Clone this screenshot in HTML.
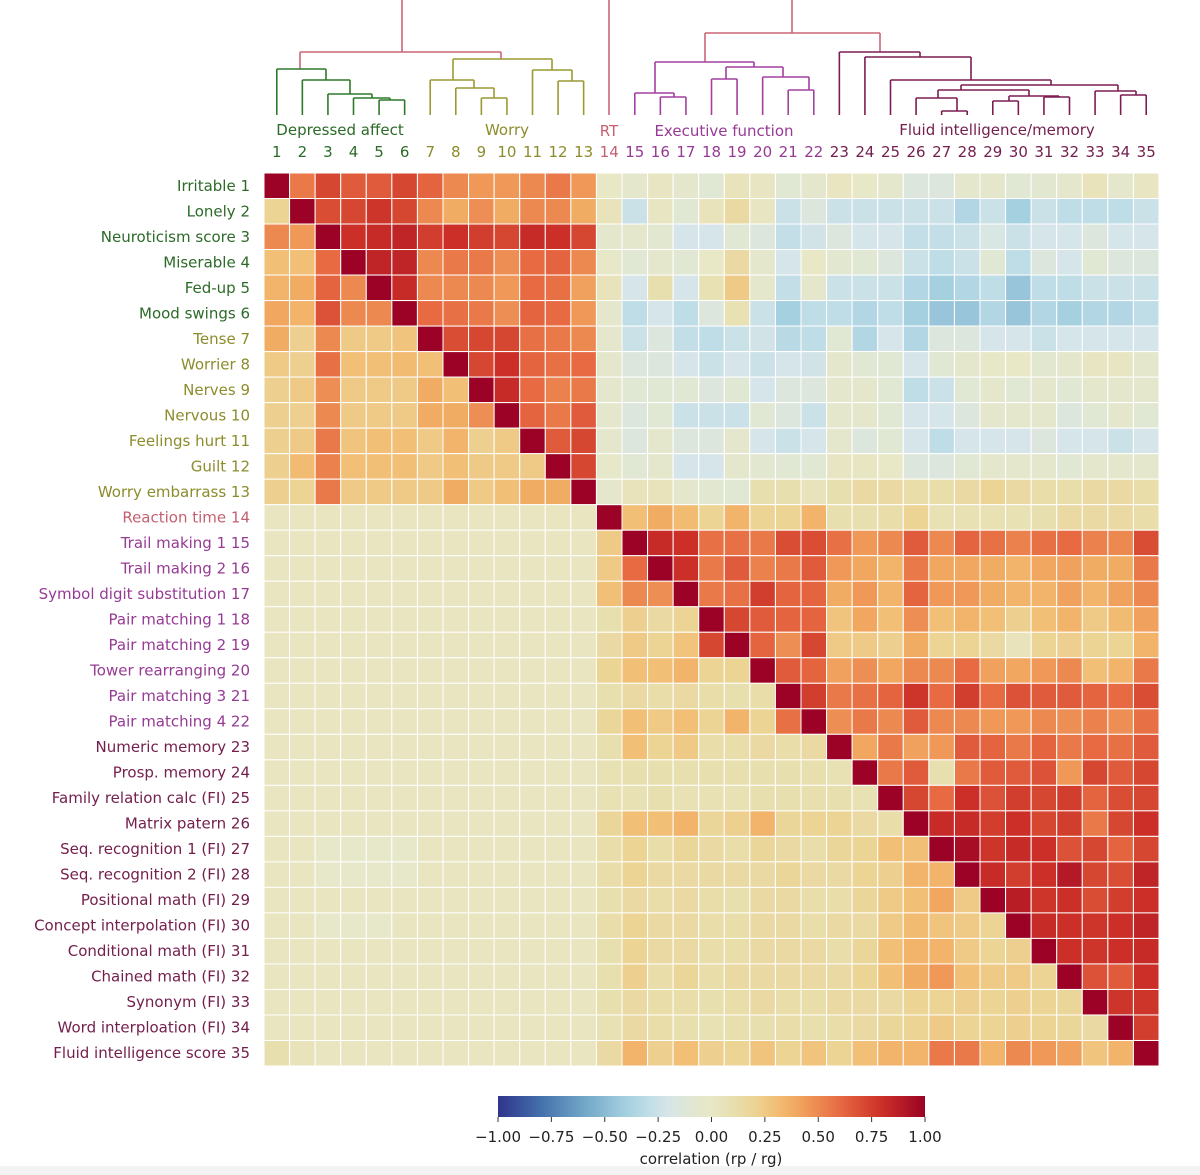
<!DOCTYPE html>
<html><head><meta charset="utf-8"><style>
html,body{margin:0;padding:0;background:#fff;}
svg{display:block;font-family:"DejaVu Sans","Liberation Sans",sans-serif;}
</style></head><body>
<svg id="chart" width="1200" height="1175" viewBox="0 0 1200 1175">
<rect x="0" y="1166" width="1200" height="9" fill="#f3f3f3"/>
<g id="dendro" fill="none" stroke-width="1.6"></g>
<g id="groups"></g>
<g id="collabels"></g>
<g id="rowlabels"></g>
<g id="cells"></g>
<g id="cbar"></g>
</svg>
<script>
const rowNames = ["Irritable","Lonely","Neuroticism score","Miserable","Fed-up","Mood swings","Tense","Worrier","Nerves","Nervous","Feelings hurt","Guilt","Worry embarrass","Reaction time","Trail making 1","Trail making 2","Symbol digit substitution","Pair matching 1","Pair matching 2","Tower rearranging","Pair matching 3","Pair matching 4","Numeric memory","Prosp. memory","Family relation calc (FI)","Matrix patern","Seq. recognition 1 (FI)","Seq. recognition 2 (FI)","Positional math (FI)","Concept interpolation (FI)","Conditional math (FI)","Chained math (FI)","Synonym (FI)","Word interploation (FI)","Fluid intelligence score"];
const groupOf = [0,0,0,0,0,0,1,1,1,1,1,1,1,2,3,3,3,3,3,3,3,3,4,4,4,4,4,4,4,4,4,4,4,4,4];
const groupNames = ["Depressed affect","Worry","RT","Executive function","Fluid intelligence/memory"];
const colorbarTicks = [-1,-0.75,-0.5,-0.25,0,0.25,0.5,0.75,1];
const L = 0.03, B = -0.03;
const m1 = [1,0.55,0.72,0.65,0.65,0.72,0.62,0.5,0.45,0.45,0.5,0.55,0.45,0.0,-0.05,0.02,-0.05,-0.1,0.05,0.02,-0.1,-0.05,0.03,-0.02,-0.05,-0.15,-0.15,-0.05,-0.05,-0.1,-0.08,-0.05,0.05,-0.05,0.02];
const m2 = [0.2,1,0.7,0.72,0.78,0.72,0.5,0.38,0.48,0.38,0.5,0.5,0.38,0.05,-0.25,0.02,-0.1,0.05,0.15,0.02,-0.25,-0.15,-0.25,-0.25,-0.25,-0.25,-0.25,-0.35,-0.25,-0.4,-0.25,-0.3,-0.3,-0.3,-0.25];
const m3 = [0.5,0.45,1,0.8,0.82,0.85,0.75,0.8,0.75,0.72,0.82,0.8,0.72,-0.05,-0.05,-0.08,-0.2,-0.2,-0.1,-0.15,-0.28,-0.22,-0.15,-0.2,-0.2,-0.28,-0.28,-0.25,-0.18,-0.25,-0.2,-0.2,-0.15,-0.2,-0.2];
const m4 = [0.3,0.3,0.6,1,0.85,0.85,0.5,0.55,0.55,0.48,0.6,0.62,0.5,-0.02,-0.1,-0.05,-0.1,0.0,0.15,-0.05,-0.2,0.0,-0.08,-0.1,-0.15,-0.25,-0.3,-0.25,-0.1,-0.3,-0.15,-0.2,-0.1,-0.15,-0.15];
const m5 = [0.35,0.38,0.62,0.5,1,0.82,0.5,0.5,0.5,0.45,0.6,0.58,0.42,0.05,-0.2,0.1,-0.2,0.08,0.25,-0.05,-0.28,-0.05,-0.25,-0.25,-0.25,-0.35,-0.4,-0.35,-0.3,-0.45,-0.3,-0.3,-0.25,-0.25,-0.25];
const m6 = [0.4,0.35,0.68,0.5,0.5,1,0.6,0.58,0.55,0.48,0.62,0.6,0.45,-0.05,-0.3,-0.2,-0.3,-0.15,0.08,-0.25,-0.4,-0.3,-0.3,-0.35,-0.3,-0.4,-0.45,-0.45,-0.35,-0.45,-0.35,-0.4,-0.35,-0.35,-0.3];
const m7 = [0.38,0.22,0.5,0.25,0.25,0.28,1,0.7,0.72,0.72,0.58,0.55,0.5,-0.05,-0.25,-0.15,-0.28,-0.3,-0.25,-0.22,-0.32,-0.3,-0.1,-0.35,-0.2,-0.35,-0.15,-0.15,-0.2,-0.2,-0.25,-0.2,-0.2,-0.2,-0.2];
const m8 = [0.25,0.22,0.58,0.3,0.3,0.32,0.3,1,0.72,0.8,0.62,0.58,0.6,-0.05,-0.15,-0.15,-0.2,-0.25,-0.2,-0.25,-0.2,-0.22,-0.05,-0.1,-0.1,-0.2,-0.1,-0.05,-0.02,0.0,-0.08,-0.05,0.02,0.02,-0.05];
const m9 = [0.22,0.25,0.48,0.25,0.25,0.25,0.38,0.3,1,0.82,0.6,0.52,0.55,-0.05,-0.1,-0.1,-0.1,-0.15,-0.1,-0.2,-0.15,-0.15,-0.05,-0.05,-0.1,-0.3,-0.25,-0.1,-0.05,-0.1,-0.05,-0.1,-0.05,-0.05,-0.05];
const m10 = [0.22,0.22,0.5,0.25,0.25,0.25,0.38,0.38,0.48,1,0.62,0.55,0.65,-0.05,-0.15,-0.1,-0.25,-0.25,-0.25,-0.1,-0.15,-0.25,-0.05,-0.05,-0.1,-0.2,-0.2,-0.15,-0.05,-0.05,-0.05,-0.15,-0.1,-0.05,-0.1];
const m11 = [0.22,0.25,0.55,0.28,0.3,0.3,0.25,0.35,0.22,0.25,1,0.65,0.72,-0.05,-0.15,-0.05,-0.15,-0.15,-0.05,-0.2,-0.25,-0.2,-0.05,-0.15,-0.1,-0.2,-0.3,-0.2,-0.2,-0.2,-0.15,-0.2,-0.2,-0.25,-0.2];
const m12 = [0.22,0.32,0.52,0.3,0.3,0.3,0.25,0.3,0.25,0.25,0.25,1,0.72,-0.03,-0.1,-0.05,-0.2,-0.2,-0.05,-0.08,-0.1,-0.1,0.02,0.02,0.0,-0.15,-0.15,-0.1,-0.05,-0.05,-0.05,-0.1,-0.05,-0.05,-0.05];
const m13 = [0.22,0.2,0.55,0.25,0.25,0.25,0.25,0.38,0.25,0.3,0.38,0.38,1,-0.05,0.05,0.05,-0.05,-0.08,-0.1,0.1,0.1,0.05,0.1,0.15,0.15,0.12,0.12,0.15,0.2,0.15,0.12,0.12,0.15,0.15,0.12];
const m14 = [L,L,L,L,L,L,L,L,L,L,L,L,L,1,0.3,0.38,0.32,0.2,0.35,0.2,0.2,0.35,0.1,0.1,0.12,0.2,0.08,0.08,0.08,0.08,0.1,0.15,0.15,0.15,0.12];
const m15 = [L,L,L,L,L,L,L,L,L,L,L,L,L,0.25,1,0.82,0.8,0.58,0.58,0.55,0.7,0.7,0.58,0.45,0.5,0.65,0.5,0.62,0.58,0.52,0.58,0.6,0.52,0.5,0.7];
const m16 = [L,L,L,L,L,L,L,L,L,L,L,L,L,0.25,0.6,1,0.8,0.55,0.65,0.52,0.55,0.65,0.45,0.4,0.35,0.55,0.4,0.4,0.38,0.35,0.4,0.42,0.38,0.38,0.55];
const m17 = [L,L,L,L,L,L,L,L,L,L,L,L,L,0.3,0.5,0.48,1,0.55,0.58,0.75,0.62,0.62,0.38,0.45,0.35,0.62,0.45,0.45,0.38,0.35,0.35,0.42,0.35,0.42,0.5];
const m18 = [L,L,L,L,L,L,L,L,L,L,L,L,L,0.1,0.22,0.15,0.2,1,0.72,0.65,0.62,0.62,0.28,0.4,0.3,0.48,0.3,0.35,0.3,0.22,0.3,0.35,0.25,0.32,0.42];
const m19 = [L,L,L,L,L,L,L,L,L,L,L,L,L,0.15,0.25,0.2,0.28,0.72,1,0.62,0.48,0.72,0.25,0.25,0.22,0.38,0.2,0.2,0.15,0.05,0.2,0.22,0.2,0.2,0.35];
const m20 = [L,L,L,L,L,L,L,L,L,L,L,L,L,0.2,0.3,0.3,0.35,0.2,0.2,1,0.65,0.62,0.42,0.48,0.4,0.5,0.5,0.6,0.42,0.4,0.45,0.5,0.3,0.35,0.55];
const m21 = [L,L,L,L,L,L,L,L,L,L,L,L,L,0.1,0.15,0.12,0.15,0.12,0.1,0.12,1,0.75,0.55,0.58,0.62,0.78,0.6,0.75,0.6,0.68,0.65,0.65,0.62,0.6,0.7];
const m22 = [L,L,L,L,L,L,L,L,L,L,L,L,L,0.18,0.3,0.25,0.3,0.2,0.35,0.2,0.58,1,0.48,0.55,0.5,0.65,0.5,0.5,0.45,0.45,0.5,0.48,0.52,0.48,0.58];
const m23 = [L,L,L,L,L,L,L,L,L,L,L,L,L,0.1,0.3,0.2,0.25,0.12,0.12,0.15,0.12,0.15,1,0.4,0.55,0.42,0.45,0.65,0.62,0.55,0.62,0.55,0.6,0.58,0.65];
const m24 = [L,L,L,L,L,L,L,L,L,L,L,L,L,0.08,0.1,0.1,0.1,0.1,0.1,0.1,0.1,0.1,0.08,1,0.55,0.65,0.1,0.55,0.65,0.65,0.68,0.45,0.72,0.65,0.72];
const m25 = [L,L,L,L,L,L,L,L,L,L,L,L,L,0.08,0.08,0.1,0.08,0.08,0.08,0.1,0.1,0.1,0.1,0.08,1,0.72,0.6,0.8,0.68,0.75,0.72,0.75,0.62,0.7,0.72];
const m26 = [L,L,L,L,L,L,L,L,L,L,L,L,L,0.18,0.3,0.3,0.35,0.18,0.22,0.35,0.18,0.2,0.2,0.15,0.12,1,0.82,0.82,0.75,0.8,0.72,0.75,0.55,0.72,0.8];
const m27 = [L,L,B,B,B,B,L,L,L,L,L,L,L,0.12,0.2,0.12,0.18,0.15,0.12,0.18,0.15,0.12,0.18,0.2,0.3,0.3,1,0.95,0.78,0.82,0.8,0.68,0.72,0.62,0.72];
const m28 = [L,L,B,B,B,B,L,L,L,L,L,L,L,0.12,0.2,0.15,0.15,0.15,0.15,0.15,0.18,0.15,0.15,0.2,0.22,0.35,0.35,1,0.82,0.75,0.8,0.9,0.72,0.7,0.85];
const m29 = [L,L,L,L,L,L,L,L,L,L,L,L,L,0.1,0.15,0.12,0.15,0.12,0.1,0.15,0.15,0.12,0.12,0.18,0.25,0.3,0.4,0.25,1,0.88,0.78,0.8,0.7,0.75,0.8];
const m30 = [L,L,B,B,B,L,L,L,L,L,L,L,L,0.12,0.2,0.15,0.15,0.12,0.12,0.15,0.15,0.12,0.15,0.15,0.25,0.32,0.28,0.25,0.2,1,0.82,0.8,0.78,0.8,0.85];
const m31 = [L,L,L,L,L,L,L,L,L,L,L,L,L,0.1,0.2,0.15,0.15,0.12,0.12,0.15,0.15,0.15,0.12,0.18,0.3,0.35,0.35,0.25,0.2,0.22,1,0.8,0.78,0.8,0.82];
const m32 = [L,L,L,L,L,L,L,L,L,L,L,L,L,0.1,0.22,0.12,0.18,0.12,0.15,0.15,0.15,0.15,0.15,0.2,0.3,0.38,0.45,0.3,0.25,0.25,0.2,1,0.68,0.65,0.8];
const m33 = [L,L,L,L,L,L,L,L,L,L,L,L,L,0.1,0.15,0.12,0.12,0.1,0.12,0.15,0.12,0.12,0.15,0.15,0.15,0.2,0.2,0.22,0.2,0.22,0.2,0.18,1,0.78,0.78];
const m34 = [L,L,L,L,L,L,L,L,L,L,L,L,L,0.08,0.15,0.12,0.1,0.08,0.1,0.1,0.12,0.1,0.12,0.15,0.18,0.2,0.25,0.2,0.2,0.22,0.2,0.18,0.15,1,0.75];
const m35 = [0.1,0.05,L,L,L,L,L,L,L,L,L,L,L,0.15,0.35,0.22,0.3,0.22,0.2,0.28,0.2,0.28,0.2,0.3,0.35,0.35,0.55,0.55,0.35,0.5,0.45,0.42,0.28,0.35,1];
const matrix = [m1,m2,m3,m4,m5,m6,m7,m8,m9,m10,m11,m12,m13,m14,m15,m16,m17,m18,m19,m20,m21,m22,m23,m24,m25,m26,m27,m28,m29,m30,m31,m32,m33,m34,m35];

const NS = "http://www.w3.org/2000/svg";
const X0 = 264, Y0 = 173, X1 = 1159, Y1 = 1066, N = 35;
const cw = (X1 - X0) / N, ch = (Y1 - Y0) / N;
const colX = i => X0 + i * cw;
const rowY = i => Y0 + i * ch;
const leafX = k => X0 + (k - 0.5) * cw;
const groupColors = ["#2f7a2a","#9a9a32","#cc6677","#a2409f","#7d1c52"];
const textColors = ["#2c6a28","#8c8c2c","#c65f70","#963a94","#74204e"];
const anchors = ["#313695","#4575b4","#74add1","#abd9e9","#e0f3f8","#ffffbf","#fee090","#fdae61","#f46d43","#d73027","#a50026"];
function hex(h){return [parseInt(h.substr(1,2),16),parseInt(h.substr(3,2),16),parseInt(h.substr(5,2),16)];}
function cmap(v){
  v = Math.max(-1,Math.min(1,v));
  let t = (v + 1) / 2 * 10;
  let i = Math.min(9, Math.floor(t)), f = t - i;
  let a = hex(anchors[i]), b = hex(anchors[i+1]);
  let c = a.map((x,k)=>x + (b[k]-x)*f);
  const lum = 0.3*c[0] + 0.59*c[1] + 0.11*c[2];
  const near = Math.max(0, 1 - Math.abs(v) / 0.3);
  const s = 0.4*near + 0.03;
  c = c.map(x => x*(1-s) + lum*s);
  const sc = 0.96 - 0.04*near;
  c = c.map(x => Math.round(Math.min(255, x*sc)));
  return "rgb(" + c.join(",") + ")";
}
function mk(tag, attrs, parent){const e=document.createElementNS(NS,tag);for(const k in attrs)e.setAttribute(k,attrs[k]);parent.appendChild(e);return e;}

const cells = document.getElementById("cells");
matrix.forEach((row, r) => row.forEach((v, c) => {
  const rect = mk("rect", {x: colX(c), y: rowY(r), width: cw, height: ch, fill: cmap(v), stroke: "#fff", "stroke-width": 1}, cells);
  
  
}));

const rl = document.getElementById("rowlabels");
rowNames.forEach((n, i) => {
  const t = mk("text", {x: 250, y: rowY(i) + ch/2 + 5, "text-anchor": "end", "font-size": 15, fill: textColors[groupOf[i]]}, rl);
  t.textContent = n + " " + (i+1);
  
  
});
const cl = document.getElementById("collabels");
rowNames.forEach((n, i) => {
  const t = mk("text", {x: leafX(i+1), y: 157, "text-anchor": "middle", "font-size": 15, fill: textColors[groupOf[i]]}, cl);
  t.textContent = String(i+1);
  
  
});
const gl = document.getElementById("groups");
const groupPos = [[340,135],[507,135],[609,136],[724,136],[997,135]];
groupNames.forEach((n, i) => {
  const t = mk("text", {x: groupPos[i][0], y: groupPos[i][1], "text-anchor": "middle", "font-size": 15, fill: textColors[i]}, gl);
  t.textContent = n;
  
  
});

const LY = 115;
const segs = [
 [402,0,402,52,2],[300,52,501,52,2],[300,52,300,69,2],[501,52,501,59,2],
 [609,0,609,LY,2],
 [792,0,792,33,2],[705,33,880,33,2],[705,33,705,62,2],[880,33,880,52,2],
 ["L1",69,326,69,0],["L1",69,"L1",LY,0],[326,69,326,80,0],["L2",80,350,80,0],["L2",80,"L2",LY,0],
 [350,80,350,94,0],["L3",94,372,94,0],["L3",94,"L3",LY,0],[372,94,372,98,0],["L4",98,390,98,0],["L4",98,"L4",LY,0],
 [390,98,390,100,0],["L5",100,"L6",100,0],["L5",100,"L5",LY,0],["L6",100,"L6",LY,0],
 [453,59,552,59,1],[453,59,453,80,1],["L7",80,474,80,1],["L7",80,"L7",LY,1],[474,80,474,88,1],["L8",88,494,88,1],["L8",88,"L8",LY,1],
 [494,88,494,98,1],["L9",98,"L10",98,1],["L9",98,"L9",LY,1],["L10",98,"L10",LY,1],
 [552,59,552,70,1],["L11",70,572,70,1],["L11",70,"L11",LY,1],[572,70,572,81,1],["L12",81,"L13",81,1],["L12",81,"L12",LY,1],["L13",81,"L13",LY,1],
 [655,62,754,62,3],[655,62,655,93,3],["L15",93,674,93,3],["L15",93,"L15",LY,3],[674,93,674,97,3],["L16",97,"L17",97,3],["L16",97,"L16",LY,3],["L17",97,"L17",LY,3],
 [754,62,754,67,3],[726,67,783,67,3],[726,67,726,79,3],["L18",79,"L19",79,3],["L18",79,"L18",LY,3],["L19",79,"L19",LY,3],
 [783,67,783,77,3],["L20",77,809,77,3],["L20",77,"L20",LY,3],[809,77,809,90,3],["L21",90,"L22",90,3],["L21",90,"L21",LY,3],["L22",90,"L22",LY,3],
 ["L23",52,920,52,4],["L23",52,"L23",LY,4],[920,52,920,57,4],["L24",57,971,57,4],["L24",57,"L24",LY,4],
 [971,57,971,80,4],["L25",80,1051,80,4],["L25",80,"L25",LY,4],[1051,80,1051,85,4],[961,85,1118,85,4],
 [961,85,961,90,4],[938,90,1029,90,4],[938,90,938,98,4],["L26",98,957,98,4],["L26",98,"L26",LY,4],[957,98,957,111,4],["L27",111,"L28",111,4],["L27",111,"L27",LY,4],["L28",111,"L28",LY,4],
 [1029,90,1029,96,4],[1009,96,1059,96,4],[1009,96,1009,101,4],["L29",101,"L30",101,4],["L29",101,"L29",LY,4],["L30",101,"L30",LY,4],
 [1059,96,1059,97,4],["L31",97,"L32",97,4],["L31",97,"L31",LY,4],["L32",97,"L32",LY,4],
 [1118,85,1118,91,4],["L33",91,1136,91,4],["L33",91,"L33",LY,4],[1136,91,1136,95,4],["L34",95,"L35",95,4],["L34",95,"L34",LY,4],["L35",95,"L35",LY,4]
];
const dg = document.getElementById("dendro");
const rx = v => (typeof v === "string") ? leafX(parseInt(v.slice(1))) : v;
segs.forEach(s => {
  const ln = mk("line", {x1: rx(s[0]), y1: s[1], x2: rx(s[2]), y2: s[3], stroke: groupColors[s[4]]}, dg);
  
  
});

const cb = document.getElementById("cbar");
const CBX0 = 498, CBX1 = 925, CBY = 1096, CBH = 21;
const defs = mk("defs", {}, cb);
const grad = mk("linearGradient", {id: "cbgrad", x1: 0, x2: 1, y1: 0, y2: 0}, defs);
for (let i = 0; i <= 40; i++) mk("stop", {offset: (i/40), "stop-color": cmap(-1 + i/20)}, grad);
const cbr = mk("rect", {x: CBX0, y: CBY, width: CBX1-CBX0, height: CBH, fill: "url(#cbgrad)"}, cb);


const cbx = v => CBX0 + (v + 1) / 2 * (CBX1 - CBX0);
colorbarTicks.forEach(v => {
  const tk = mk("line", {x1: cbx(v), x2: cbx(v), y1: CBY + CBH, y2: CBY + CBH + 5, stroke: "#333", "stroke-width": 1}, cb);
  
  
  const t = mk("text", {x: cbx(v), y: 1142, "text-anchor": "middle", "font-size": 15, fill: "#222"}, cb);
  t.textContent = (v < 0 ? "\u2212" : "") + Math.abs(v).toFixed(2);
  
  
});
const ct = mk("text", {x: 711, y: 1164, "text-anchor": "middle", "font-size": 15, fill: "#222"}, cb);
ct.textContent = "correlation (rp / rg)";


</script>
</body></html>
